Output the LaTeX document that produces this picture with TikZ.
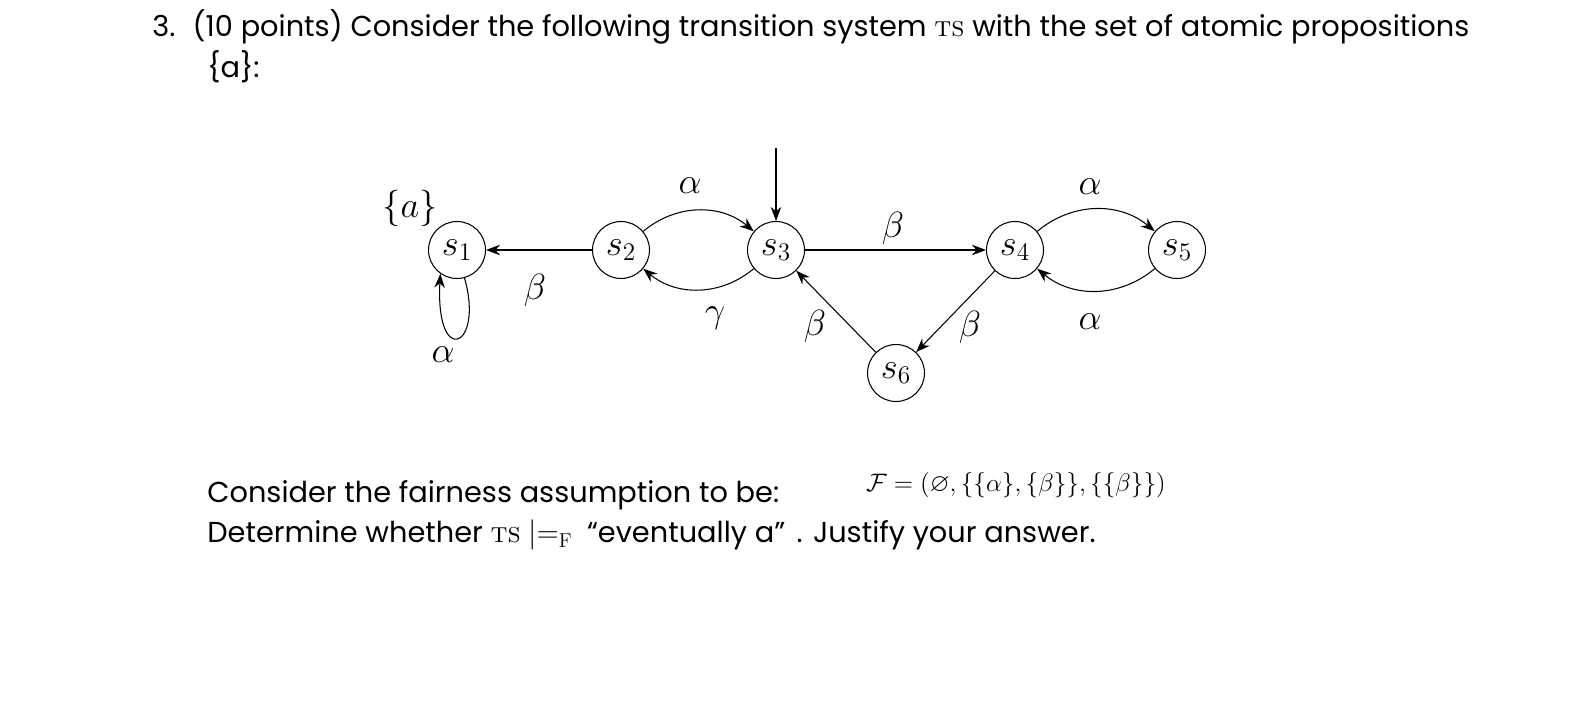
\documentclass[tikz,border=0pt]{standalone}
\usepackage{fontspec}
\usepackage{amssymb}
\setsansfont{Poppins}
\usetikzlibrary{arrows.meta}
\begin{document}
\begin{tikzpicture}[x=0.02cm,y=-0.02cm,
  st/.style={circle,draw,line width=0.6pt,minimum size=1.14cm,inner sep=0pt,font=\fontsize{20}{24}\selectfont},
  lab/.style={font=\fontsize{20}{24}\selectfont},
  txt/.style={anchor=west,font=\sffamily\fontsize{16.4}{19}\selectfont,inner sep=0pt},
  edge/.style={-{Stealth[length=8pt,width=6pt]},line width=0.6pt}]
\useasboundingbox (0,0) rectangle (1583,702);
\node[txt] (l1) at (152,27) {3.\hspace{0.6em}(10 points) Consider the following transition system {\rmfamily\textsc{ts}} with the set of atomic propositions};
\node[txt] (l2) at (207,67) {\{a\}:};
\node[st] (s1) at (457,250) {$s_1$};
\node[st] (s2) at (621,250) {$s_2$};
\node[st] (s3) at (776,250) {$s_3$};
\node[st] (s4) at (1015,250) {$s_4$};
\node[st] (s5) at (1177,250) {$s_5$};
\node[st] (s6) at (896,373) {$s_6$};
\node[lab] (pa) at (410,208) {$\{a\}$};
\coordinate (init) at (776,148);
\draw[edge] (init) -- (s3);
\draw[edge] (s2) -- (s1);
\draw[edge] (s2) to[bend left=40] (s3);
\draw[edge] (s3) to[bend left=40] (s2);
\draw[edge] (s3) -- (s4);
\draw[edge] (s4) to[bend left=40] (s5);
\draw[edge] (s5) to[bend left=40] (s4);
\draw[edge] (s6) -- (s3);
\draw[edge] (s4) -- (s6);
\draw[edge] (s1.-75) .. controls +(20,70) and +(-5,95) .. (s1.-125);
\node[lab] at (535,290) {$\beta$};
\node[lab] at (690,186) {$\alpha$};
\node[lab] at (715,318) {$\gamma$};
\node[lab] at (893,228) {$\beta$};
\node[lab] at (1090,187) {$\alpha$};
\node[lab] at (1090,322) {$\alpha$};
\node[lab] at (815,326) {$\beta$};
\node[lab] at (970,327) {$\beta$};
\node[lab] at (443,355) {$\alpha$};
\node[txt] (c1) at (207,495) {Consider the fairness assumption to be:};
\node[font=\fontsize{14.5}{18}\selectfont] (f) at (1016,485) {$\mathcal{F}=(\varnothing,\{\{\alpha\},\{\beta\}\},\{\{\beta\}\})$};
\node[txt] (c2) at (207,535) {Determine whether {\rmfamily\textsc{ts}} $|{=}_{\mathrm{F}}$\hspace{0.5em}“eventually a”\hspace{0.4em}. Justify your answer.};
\end{tikzpicture}
\end{document}
